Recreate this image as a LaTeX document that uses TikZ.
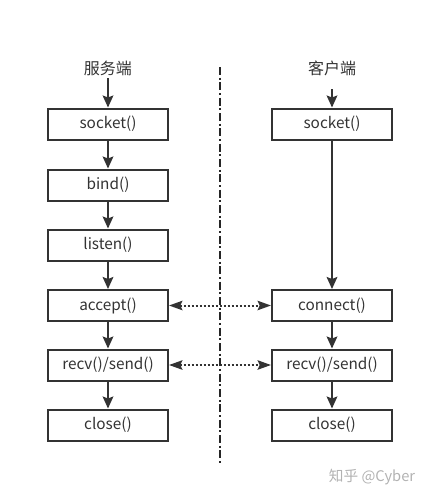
\documentclass[tikz,border=0pt]{standalone}
\usepackage{fontspec}
\setmainfont{Noto Sans CJK SC}
\usetikzlibrary{arrows.meta}
\begin{document}
\begin{tikzpicture}[x=0.75pt, y=-0.75pt]
    \tikzset{box/.style={draw=black!80, line width=1.5pt, minimum width=90pt, minimum height=23.25pt, inner sep=0pt, text=black!80, font=\fontsize{11.5}{13}\selectfont}}
    \tikzset{title/.style={text=black!80, inner sep=2pt, font=\fontsize{12}{14}\selectfont}}
    \tikzset{flow/.style={draw=black!80, line width=1.5pt, -{Stealth[length=9pt, width=8pt, inset=1.5pt]}}}
    \tikzset{link/.style={draw=black!80, line width=1.5pt, dash pattern=on 1.5pt off 1.5pt, {Stealth[length=10pt, width=7pt, inset=1.5pt]}-{Stealth[length=10pt, width=7pt, inset=1.5pt]}}}
    \useasboundingbox (0,0) rectangle (424,497);
    % server
    \node[title] (server) at (108, 68) {服务端};
    \node[box] (ssocket) at (108, 124) {socket()};
    \node[box] (bind) at (108, 185) {bind()};
    \node[box] (listen) at (108, 245) {listen()};
    \node[box] (accept) at (108, 305.5) {accept()};
    \node[box] (srecv) at (108, 365) {recv()/send()};
    \node[box] (sclose) at (108, 425) {close()};
    % client
    \node[title] (client) at (332, 68) {客户端};
    \node[box] (csocket) at (332, 124) {socket()};
    \node[box] (connect) at (332, 305.5) {connect()};
    \node[box] (crecv) at (332, 365) {recv()/send()};
    \node[box] (cclose) at (332, 425) {close()};
    \draw[flow] (server) -- (ssocket);
    \draw[flow] (ssocket) -- (bind);
    \draw[flow] (bind) -- (listen);
    \draw[flow] (listen) -- (accept);
    \draw[flow] (accept) -- (srecv);
    \draw[flow] (srecv) -- (sclose);
    \draw[flow, shorten <=8pt] (client) -- (csocket);
    \draw[flow] (csocket) -- (connect);
    \draw[flow] (connect) -- (crecv);
    \draw[flow] (crecv) -- (cclose);
    \draw[link] (accept) -- (connect);
    \draw[link] (srecv) -- (crecv);
    % divider
    \coordinate (top) at (220, 67);
    \coordinate (bottom) at (220, 463);
    \draw[black!85, line width=1.3pt, dash pattern=on 6pt off 2pt on 1.5pt off 2pt] (top) -- (bottom);
    \node[text=black!30, font=\fontsize{11}{13}\selectfont] (mark) at (372, 477) {知乎 @Cyber};
\end{tikzpicture}
\end{document}
